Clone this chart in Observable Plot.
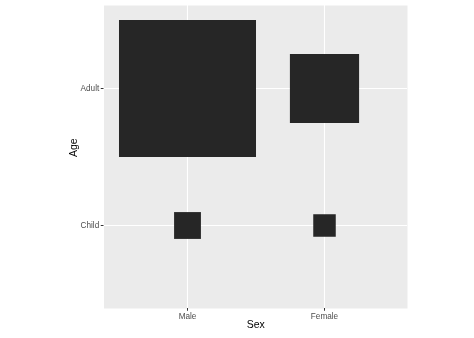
<!DOCTYPE html>
<html>
<head>
<meta charset="utf-8">
<script src="https://cdn.jsdelivr.net/npm/d3@7"></script>
<script src="https://cdn.jsdelivr.net/npm/@observablehq/plot@0.6"></script>
<style>
  html, body { margin: 0; padding: 0; background: #fff; }
  #chart svg { display: block; will-change: transform; }
</style>
</head>
<body>
<div id="chart"></div>
<script>
const sexCategories = ["Male", "Female"];
const ageCategories = ["Adult", "Child"];
const sex = ["Male", "Female", "Male", "Female"];
const age = ["Adult", "Adult", "Child", "Child"];
const count = [1667, 425, 64, 45];

const data = count.map((n, i) => ({sex: sex[i], age: age[i], n}));

const chart = Plot.plot({
  width: 474,
  height: 338,
  marginLeft: 103.5,
  marginRight: 67,
  marginTop: 5,
  marginBottom: 30,
  style: {fontFamily: "'Liberation Sans', Arial, sans-serif", background: "#fff"},
  x: {type: "point", domain: sexCategories, padding: 0.6},
  y: {type: "point", domain: ageCategories, padding: 0.6},
  r: {type: "sqrt", domain: [0, 1667], range: [0, 77.3]},
  marks: [
    Plot.frame({fill: "#EBEBEB", stroke: null}),
    Plot.gridX({stroke: "#fff", strokeOpacity: 1, strokeWidth: 1.1}),
    Plot.gridY({stroke: "#fff", strokeOpacity: 1, strokeWidth: 1.1}),
    Plot.dot(data, {x: "sex", y: "age", r: "n", symbol: "square", fill: "#262626", stroke: null}),
    Plot.axisX({tickSize: 2.75, tickPadding: 2, stroke: "#333", fill: "#4D4D4D", fontSize: 8.2, label: null}),
    Plot.axisY({tickSize: 2.75, tickPadding: 2, stroke: "#333", fill: "#4D4D4D", fontSize: 8.2, label: null}),
    Plot.text(["Sex"], {frameAnchor: "bottom", dy: 19, text: d => d, fontSize: 10.5, fill: "#000"}),
    Plot.text(["Age"], {frameAnchor: "left", dx: -30, rotate: -90, text: d => d, fontSize: 10.5, fill: "#000"})
  ]
});
document.getElementById("chart").appendChild(chart);
</script>
</body>
</html>
